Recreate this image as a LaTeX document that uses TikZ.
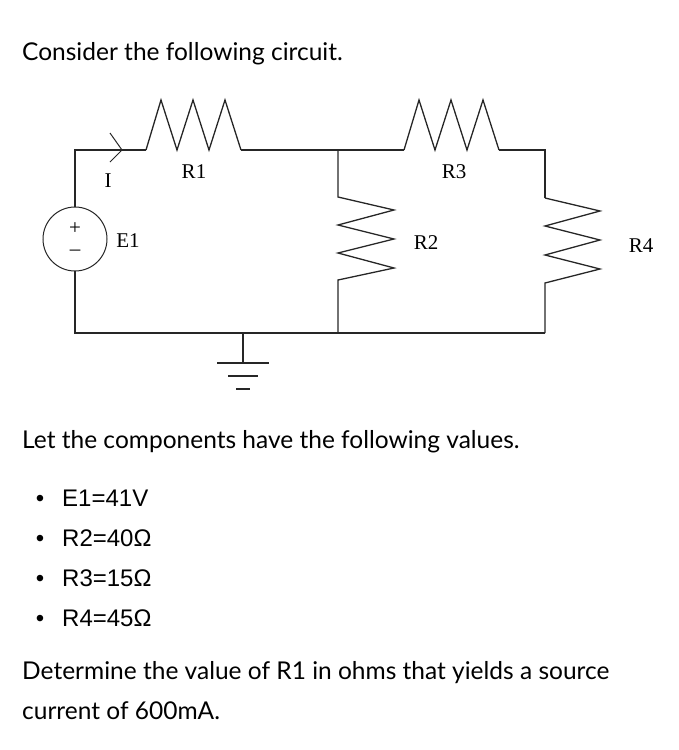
\documentclass[tikz,border=0pt]{standalone}
\usepackage{fontspec}
\setmainfont{Lato}
\newfontfamily\listfont{Liberation Sans}
\newfontfamily\circfont{Liberation Serif}
\usetikzlibrary{arrows,positioning}
\tikzset{
  txt/.style={anchor=base west,inner sep=0pt,font=\fontsize{24.5}{28}\selectfont},
  item/.style={anchor=base west,inner sep=0pt,font=\listfont\fontsize{24}{28}\selectfont},
  lbl/.style={inner sep=0pt,font=\circfont\fontsize{21}{24}\selectfont},
  wire/.style={line width=1.3pt,color=black!85}
}
\begin{document}
\begin{tikzpicture}[x=1pt,y=1pt,yscale=-1,xscale=1]
\useasboundingbox (0,0) rectangle (678,750);

%Corners and junctions
\coordinate (tl) at (75,150);
\coordinate (r1a) at (146,150);
\coordinate (r1b) at (241,150);
\coordinate (jt) at (338,150);
\coordinate (r3a) at (404,150);
\coordinate (r3b) at (499,150);
\coordinate (tr) at (545,150);
\coordinate (bl) at (75,333);
\coordinate (jb) at (338,333);
\coordinate (br) at (545,333);
\coordinate (gnd) at (243,333);
\coordinate (r2a) at (338,197);
\coordinate (r2b) at (338,280);
\coordinate (r4a) at (545,198);
\coordinate (r4b) at (545,283);

%Source
\draw [wire,line width=1pt] (75,239) circle (32);
\node (src) at (75,239) [circle,minimum size=64pt,inner sep=0pt] {};
\node (plus) at (75,229) [lbl] {+};
\node (minus) at (75,253) [lbl] {\textendash};

%Wires
\draw [wire] (src.north) -- (tl) -- (r1a);
\draw [wire] (r1a) -- (161,100) -- (177,150) -- (193,100) -- (209,150) -- (225,100) -- (r1b);
\draw [wire] (r1b) -- (jt) -- (r3a);
\draw [wire] (r3a) -- (419,100) -- (435,150) -- (451,100) -- (467,150) -- (483,100) -- (r3b);
\draw [wire] (r3b) -- (tr) -- (r4a);
\draw [wire] (jt) -- (r2a) -- (394,210) -- (338,225) -- (394,239) -- (338,253) -- (394,268) -- (r2b) -- (jb);
\draw [wire] (r4a) -- (600,211) -- (545,226) -- (600,240) -- (545,255) -- (600,269) -- (r4b) -- (br);
\draw [wire] (src.south) -- (bl) -- (jb) -- (br);

%Ground
\draw [wire] (gnd) -- ++(0,30) coordinate (g1);
\draw [wire] ([xshift=-26pt]g1) -- ([xshift=26pt]g1);
\draw [wire] ([xshift=-15pt,yshift=13pt]g1) -- ([xshift=15pt,yshift=13pt]g1);
\draw [wire] ([xshift=-7pt,yshift=26pt]g1) -- ([xshift=7pt,yshift=26pt]g1);

%Current arrow
\draw [wire,line width=1pt] (110,133) -- (122,150) -- (110,162);

% Text Node
\node (i) at (108,181) [lbl] {I};
\node (r1) at (194,172) [lbl] {R1};
\node (r3) at (454,172) [lbl] {R3};
\node (e1) at (128,241) [lbl] {E1};
\node (r2) at (426,243) [lbl] {R2};
\node (r4) at (641,246) [lbl] {R4};

\node (t1) at (22,60) [txt] {Consider the following circuit.};
\node (t2) at (22,448) [txt] {Let the components have the following values.};
\foreach \v [count=\k] in {E1=41V,R2=40Ω,R3=15Ω,R4=45Ω}
  \node (b\k) at (62,506+40*\k-40) [item] {\makebox[0pt][r]{\textbullet\hspace{18pt}}\v};
\node (t3) at (22,679) [txt] {Determine the value of R1 in ohms that yields a source};
\node (t4) at (22,719) [txt] {current of 600mA.};
\end{tikzpicture}
\end{document}
